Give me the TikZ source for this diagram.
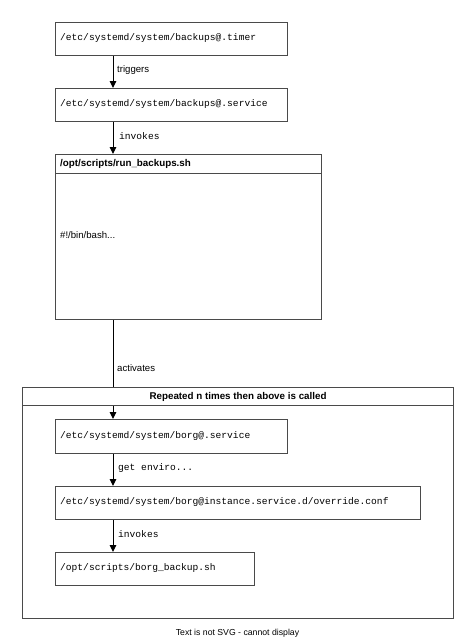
\documentclass[tikz,border=0pt]{standalone}
\usepackage{fontspec}
\setmainfont{Liberation Sans}
\newfontfamily\cour{Liberation Mono}
\usetikzlibrary{arrows.meta}
\definecolor{edge}{HTML}{4A4A4A}
\tikzset{
  box/.style={draw=edge, line width=1.1pt, rectangle, anchor=north west, inner sep=0pt},
  mono/.style={font=\cour\fontsize{9.6}{11}\selectfont, anchor=west, inner sep=0pt},
  sans/.style={font=\fontsize{9.6}{11}\selectfont, anchor=west, inner sep=0pt},
  sansb/.style={font=\bfseries\fontsize{9.8}{11}\selectfont, inner sep=0pt},
  arr/.style={draw=black, line width=1pt, -{Triangle[width=6.5pt,length=7pt]}},
  conn/.style={draw=edge, line width=1pt}
}
\begin{document}
\begin{tikzpicture}[x=1pt,y=-1pt]
\useasboundingbox (0,0) rectangle (474,640);
\coordinate (ax) at (113,0);
% top boxes
\node[box, minimum width=232, minimum height=33] (b1) at (55,22) {};
\node[mono] (t1) at (60,38.5) {/etc/systemd/system/backups@.timer};
\node[box, minimum width=232, minimum height=33] (b2) at (55,88) {};
\node[mono] (t2) at (60,104.5) {/etc/systemd/system/backups@.service};
\node[box, minimum width=266, minimum height=165] (b3) at (55,154) {};
\draw[conn] ([yshift=-19pt]b3.north west) -- ([yshift=-19pt]b3.north east);
\node[sansb, anchor=west] (t3) at (60,163.5) {/opt/scripts/run\_backups.sh};
\node[sans] (t3b) at (60,235) {\#!/bin/bash...};
% container
\node[box, minimum width=431, minimum height=231] (ct) at (22,387) {};
% inner boxes
\node[box, minimum width=232, minimum height=34] (b4) at (55,419) {};
\node[mono] (t4) at (60,436) {/etc/systemd/system/borg@.service};
\node[box, minimum width=365, minimum height=33] (b5) at (55,486) {};
\node[mono] (t5) at (60,502) {/etc/systemd/system/borg@instance.service.d/override.conf};
\node[box, minimum width=199, minimum height=33] (b6) at (55,552) {};
\node[mono] (t6) at (60,568.5) {/opt/scripts/borg\_backup.sh};
% connectors
\draw[arr] (b1.south -| ax) -- (b2.north -| ax);
\node[sans] (l1) at (117,70) {triggers};
\draw[arr] (b2.south -| ax) -- (b3.north -| ax);
\node[mono] (l2) at (119,136) {invokes};
\draw[arr] (b3.south -| ax) -- (b4.north -| ax);
\node[sans] (l3) at (117,368) {activates};
\draw[arr] (b4.south -| ax) -- (b5.north -| ax);
\node[mono] (l4) at (118,468) {get enviro...};
\draw[arr] (b5.south -| ax) -- (b6.north -| ax);
\node[mono] (l5) at (118,534) {invokes};
% container header drawn over the connector
\node[box, fill=white, minimum width=431, minimum height=18] (cth) at (22,387) {};
\node[sansb] (ctt) at (cth.center) {Repeated n times then above is called};
% footer
\node[font=\fontsize{8.7}{10}\selectfont, inner sep=0pt] (ft) at (237.5,633) {Text is not SVG - cannot display};
\end{tikzpicture}
\end{document}
